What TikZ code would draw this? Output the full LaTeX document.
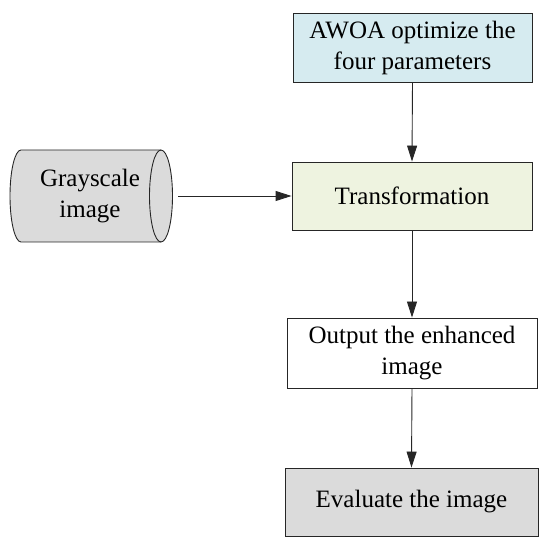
\documentclass[tikz,border=0pt]{standalone}
\usepackage{fontspec}
\setmainfont{Liberation Serif}
\usetikzlibrary{arrows.meta}
\definecolor{awoablue}{HTML}{D6EBF0}
\definecolor{transgreen}{HTML}{EEF3E0}
\definecolor{boxgray}{HTML}{DBDBDB}
\begin{document}
\begin{tikzpicture}[x=1pt,y=-1pt,
  box/.style={draw=black!85,line width=0.9pt,align=center,inner sep=0pt,
    font=\fontsize{25}{31}\selectfont},
  conn/.style={draw=black!85,line width=0.9pt,-{Triangle[length=16pt,width=10pt]}},
  txt/.style={align=center,inner sep=0pt,font=\fontsize{25}{31}\selectfont}]
\useasboundingbox (0,0) rectangle (550,548);
% boxes
\node[box,fill=awoablue,minimum width=239pt,minimum height=69pt] (awoa) at (412.5,47.5) {AWOA optimize the\\four parameters};
\node[box,fill=transgreen,minimum width=240pt,minimum height=68pt] (trans) at (412,196) {Transformation};
\node[box,fill=white,minimum width=250pt,minimum height=70pt] (out) at (412,353) {Output the enhanced\\image};
\node[box,fill=boxgray,minimum width=253pt,minimum height=68pt] (eval) at (411.5,502) {Evaluate the image};
% cylinder
\draw[draw=black!85,line width=0.9pt,fill=boxgray]
  (21,150) -- (161,150) arc[start angle=270,end angle=450,x radius=11.5,y radius=46]
  -- (21,242) arc[start angle=90,end angle=270,x radius=11,y radius=46] -- cycle;
\draw[draw=black!85,line width=0.9pt] (161,150) arc[start angle=270,end angle=90,x radius=11.5,y radius=46];
\node[txt] (gray) at (90,196) {Grayscale\\image};
\coordinate (grayE) at (178,196);
% connectors
\draw[conn] (grayE) -- (trans.west);
\draw[conn] (awoa.south) -- (trans.north);
\draw[conn] (trans.south) -- (out.north);
\draw[conn] (out.south) -- (eval.north);
\end{tikzpicture}
\end{document}
